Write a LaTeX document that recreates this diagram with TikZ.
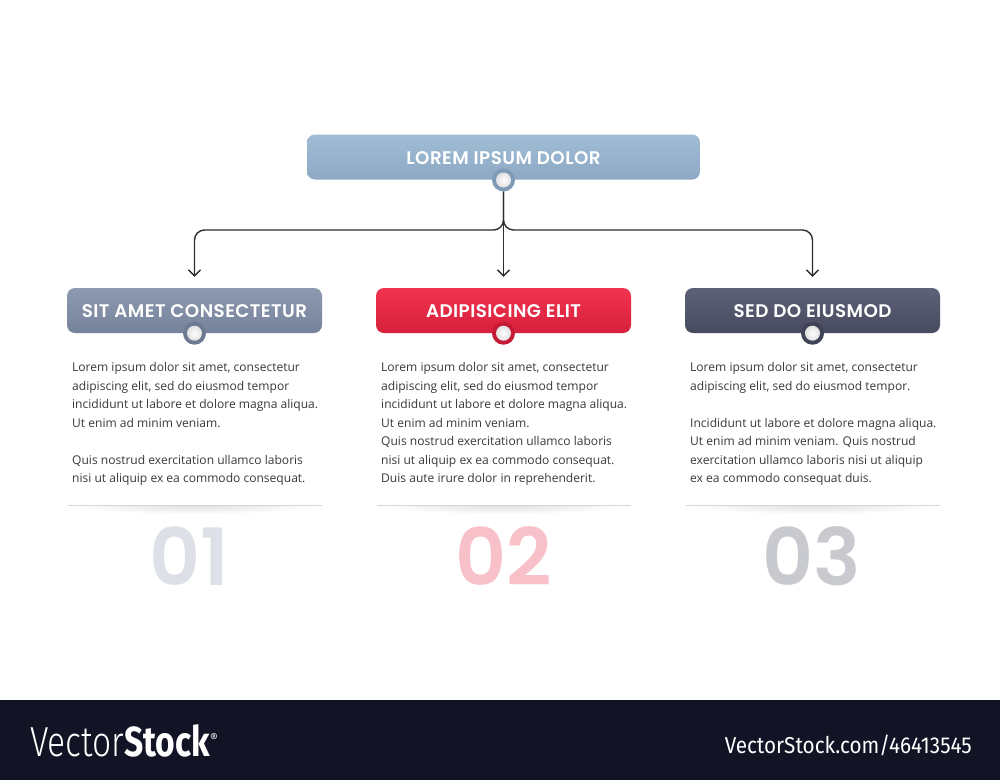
\documentclass[tikz,border=0pt]{standalone}
\usepackage{fontspec}
\usepackage{graphicx}
\setmainfont{Open Sans}
\newfontfamily\headfont{Poppins SemiBold}
\newfontfamily\headspaced[LetterSpace=2.5]{Poppins SemiBold}
\newfontfamily\logofont{Fira Sans}
\usetikzlibrary{arrows.meta}
\definecolor{topA}{HTML}{A0BDD6}
\definecolor{topB}{HTML}{8DA8C3}
\definecolor{topR}{HTML}{7E9AB6}
\definecolor{oneA}{HTML}{8D99B0}
\definecolor{oneB}{HTML}{77839B}
\definecolor{oneR}{HTML}{6E7A92}
\definecolor{twoA}{HTML}{F0344F}
\definecolor{twoB}{HTML}{D71F3B}
\definecolor{twoR}{HTML}{C41A35}
\definecolor{thrA}{HTML}{5E6278}
\definecolor{thrB}{HTML}{474A5F}
\definecolor{thrR}{HTML}{404357}
\definecolor{bodytxt}{HTML}{3A3A3A}
\definecolor{num1}{HTML}{DDE0E7}
\definecolor{num2}{HTML}{F8C0C8}
\definecolor{num3}{HTML}{C9CACF}
\definecolor{barcol}{HTML}{121325}
\definecolor{linecol}{HTML}{2E2E2E}
\begin{document}
\begin{tikzpicture}[x=1pt,y=-1pt,
  hbox/.style={rounded corners=8pt, minimum height=45pt, inner sep=0pt,
    text height=14.8pt, text depth=0pt,
    text=white, font=\headspaced\fontsize{18.3}{20}\selectfont},
  ring/.style={circle, minimum size=23pt, inner sep=0pt},
  ball/.style={circle, minimum size=15pt, inner sep=0pt, inner color=white, outer color=black!12},
  conn/.style={draw=linecol, line width=1.4pt, rounded corners=10pt, shorten >=11pt,
    -{Straight Barb[length=6pt,width=12pt]}},
  body/.style={anchor=north west, inner sep=0pt, align=left, text=bodytxt,
    font=\fontsize{12.05}{18.5}\selectfont},
  num/.style={inner sep=0pt, font=\headfont\fontsize{79}{80}\selectfont},
  sepline/.style={draw=black!16, line width=0.8pt}]
\useasboundingbox (0,0) rectangle (1000,780);
\fill[white] (0,0) rectangle (1000,780);

% top box
\node[hbox, minimum width=393pt, top color=topA, bottom color=topB] (top) at (503.5,157) {LOREM IPSUM DOLOR};
\node[ring, fill=topR] (tr) at (503.5,180) {};
\node[ball] (td) at (tr) {};

% child boxes
\node[hbox, minimum width=255pt, top color=oneA, bottom color=oneB] (c1) at (194.5,310.5) {SIT AMET CONSECTETUR};
\node[hbox, minimum width=255pt, top color=twoA, bottom color=twoB] (c2) at (503.5,310.5) {ADIPISICING ELIT};
\node[hbox, minimum width=255pt, top color=thrA, bottom color=thrB] (c3) at (812.5,310.5) {SED DO EIUSMOD};
\node[ring, fill=oneR] (r1) at (c1.south) {};
\node[ball] (b1) at (r1) {};
\node[ring, fill=twoR] (r2) at (c2.south) {};
\node[ball] (b2) at (r2) {};
\node[ring, fill=thrR] (r3) at (c3.south) {};
\node[ball] (b3) at (r3) {};

% connectors
\coordinate (j) at (503.5,230);
\draw[conn] (tr.south) -- (j) -| (c1.north);
\draw[conn] (tr.south) -- (j) -| (c3.north);
\draw[conn] (tr.south) -- (c2.north);

% body texts
\node[body] (t1) at (72,362.5) {Lorem ipsum dolor sit amet, consectetur\\adipiscing elit, sed do eiusmod tempor\\incididunt ut labore et dolore magna aliqua.\\Ut enim ad minim veniam.\\[18.5pt]Quis nostrud exercitation ullamco laboris\\nisi ut aliquip ex ea commodo consequat.};
\node[body] (t2) at (381,362.5) {Lorem ipsum dolor sit amet, consectetur\\adipiscing elit, sed do eiusmod tempor\\incididunt ut labore et dolore magna aliqua.\\Ut enim ad minim veniam.\\Quis nostrud exercitation ullamco laboris\\nisi ut aliquip ex ea commodo consequat.\\Duis aute irure dolor in reprehenderit.};
\node[body] (t3) at (690,362.5) {Lorem ipsum dolor sit amet, consectetur\\adipiscing elit, sed do eiusmod tempor.\\[18.5pt]Incididunt ut labore et dolore magna aliqua.\\Ut enim ad minim veniam. Quis nostrud\\exercitation ullamco laboris nisi ut aliquip\\ex ea commodo consequat duis.};

% separators
\foreach \cx in {194.5,503.5,812.5}{
  \begin{scope}
    \clip (\cx-127,505) rectangle (\cx+127,516);
    \shade[inner color=black!13, outer color=white] (\cx,505) ellipse (127pt and 9pt);
  \end{scope}
  \draw[sepline] (\cx-127,505) -- (\cx+127,505);
}

% numbers
\node[num, text=num1] (n1) at (189,556) {01};
\node[num, text=num2] (n2) at (503.5,556) {02};
\node[num, text=num3] (n3) at (812,556) {03};

% bottom bar
\fill[barcol] (0,700) rectangle (1000,780);
\node[anchor=west, inner sep=0pt, text=white] (logo) at (30,741)
  {\scalebox{0.8}[1]{\logofont\fontsize{42}{42}\selectfont\fontspec{Fira Sans Light}Vector\logofont\bfseries Stock}\raisebox{14pt}{\logofont\fontsize{12}{12}\selectfont\textregistered}};
\node[anchor=east, inner sep=0pt, text=white] (url) at (972,745)
  {\scalebox{0.9}[1]{\logofont\fontsize{23}{23}\selectfont VectorStock.com/46413545}};
\end{tikzpicture}
\end{document}
